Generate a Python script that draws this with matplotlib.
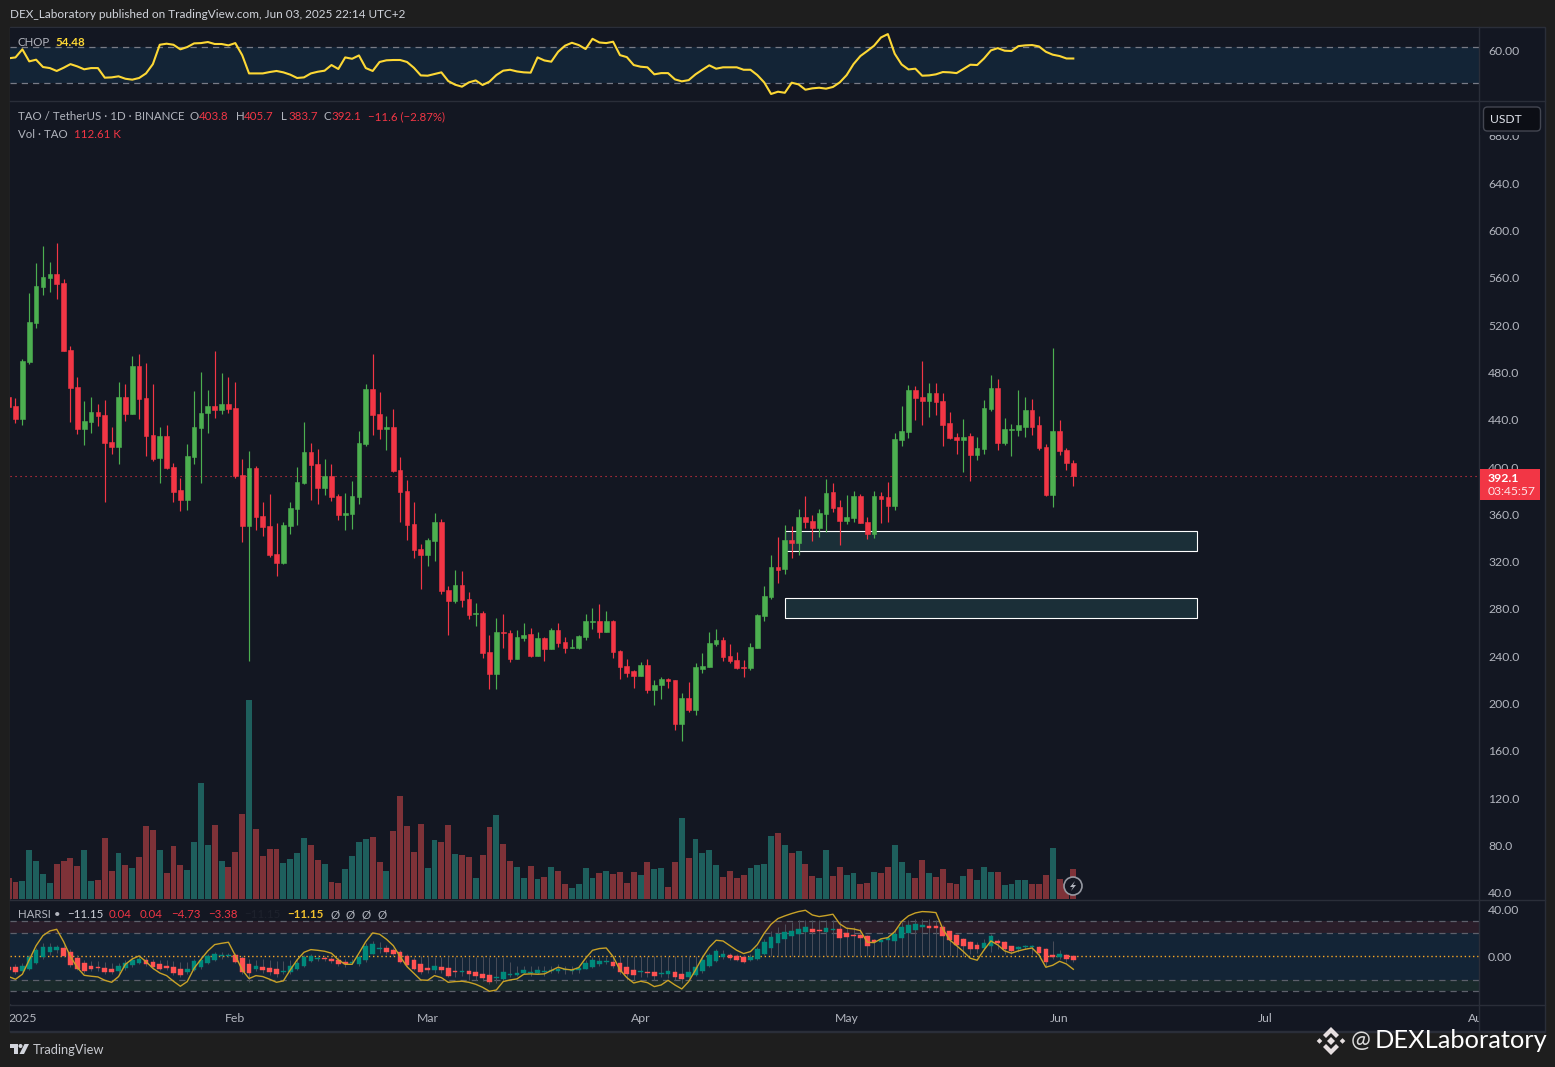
import matplotlib
matplotlib.use('Agg')
import matplotlib.pyplot as plt
import numpy as np
from matplotlib.patches import Rectangle, Polygon, Circle, FancyBboxPatch
from matplotlib.lines import Line2D
from matplotlib.transforms import Affine2D

plt.rcParams['font.family'] = ['Lato', 'DejaVu Sans']

W, H = 1555, 1067

# TAO/USDT daily candles, first one is 30 Dec 2024
opens = [459.2,451.3,440.6,488.8,522.0,552.4,559.7,563.1,555.5,498.6,467.6,432.4,438.3,446.5,444.0,421.1,
         417.2,459.2,445.1,485.4,458.3,427.1,407.9,426.2,400.0,380.6,372.4,408.7,433.3,445.9,451.6,448.5,
         453.3,449.9,393.3,350.5,399.2,358.3,350.2,326.5,318.9,350.5,364.8,386.8,412.7,402.6,382.6,392.4,
         375.5,359.8,360.6,375.0,419.7,465.9,444.8,432.4,433.8,397.5,379.8,351.9,330.7,325.7,337.5,353.6,
         296.1,286.8,300.3,288.5,275.8,276.7,243.7,225.1,260.6,259.8,237.8,255.5,258.9,240.3,255.5,246.2,
         262.3,252.1,247.1,247.1,256.4,269.0,269.9,260.6,269.9,244.5,231.9,227.6,223.4,232.7,211.6,215.8,
         220.9,220.0,182.9,204.8,194.7,229.3,231.0,250.5,253.8,240.3,236.9,231.0,230.2,247.1,274.1,290.2,
         315.5,313.8,338.3,335.8,357.8,354.4,348.5,360.3,378.9,366.2,354.4,356.9,375.5,353.5,343.4,375.5,
         374.7,367.1,422.8,429.6,465.1,459.2,455.8,462.6,455.8,437.2,425.4,422.8,426.2,410.2,415.2,449.0,
         466.8,420.3,431.3,431.3,433.8,448.2,435.5,416.9,376.4,430.5,414.4,403.8]
highs = [459.2,458.3,491.0,546.8,572.4,586.5,573.3,589.3,558.9,502.0,475.8,455.8,458.9,453.3,456.4,433.8,
         471.6,470.2,493.8,495.2,487.6,470.2,433.8,435.5,403.4,390.7,419.5,464.0,480.0,465.1,498.0,479.2,
         476.1,471.6,406.8,413.3,400.6,370.2,377.2,352.7,353.3,370.2,400.0,438.1,420.3,415.2,406.8,402.6,
         377.2,378.1,388.2,430.5,470.2,495.5,463.4,443.1,449.0,408.5,389.1,370.5,335.0,340.0,361.2,356.1,
         299.5,313.0,312.2,294.4,285.1,278.3,258.1,272.4,275.8,262.3,262.3,268.2,264.0,260.6,256.4,264.0,
         268.2,256.4,254.7,258.1,275.8,280.9,284.3,278.3,270.7,245.4,237.8,228.5,235.2,237.8,220.0,222.6,
         221.7,220.0,209.0,218.3,234.4,242.9,260.6,263.1,256.4,250.5,243.7,236.9,251.3,275.8,299.5,325.7,
         340.9,351.0,350.2,364.5,375.5,359.5,364.5,389.9,386.5,372.1,376.4,379.7,377.2,357.8,379.7,378.9,
         387.3,428.8,451.6,469.3,468.5,489.6,471.0,471.0,462.6,446.5,428.8,440.6,428.8,425.4,456.6,477.8,
         474.4,441.4,436.4,465.1,459.2,457.5,443.1,419.5,500.6,439.7,416.1,405.7]
lows = [451.0,437.5,435.8,487.3,517.8,545.7,547.9,542.3,498.0,438.3,428.2,418.9,429.0,434.9,370.7,411.3,
        402.8,439.2,445.0,440.9,409.6,405.4,386.8,398.6,370.7,363.1,364.0,402.8,386.8,429.0,441.7,445.1,
        445.9,391.0,336.9,236.4,347.1,342.0,324.3,308.2,318.3,343.7,351.3,386.0,372.4,369.1,376.7,371.6,
        355.5,347.1,347.9,369.1,418.0,427.3,424.0,414.7,396.1,353.8,338.3,323.1,296.9,316.4,320.6,292.7,
        258.1,285.1,281.7,271.6,265.7,238.6,212.4,212.4,247.1,235.2,237.8,253.0,239.5,240.3,236.1,246.2,
        247.9,242.9,247.1,246.2,253.8,263.1,255.5,260.6,238.6,220.9,222.6,213.3,223.4,209.0,198.9,204.0,
        213.3,177.8,168.5,193.0,190.5,226.0,231.0,248.8,236.1,234.4,229.3,222.6,228.5,247.1,269.9,288.5,
        302.0,309.6,323.1,325.7,348.5,337.5,340.9,345.1,362.0,334.1,351.9,353.5,352.7,339.2,340.0,352.7,
        353.5,363.7,417.8,424.5,439.7,435.5,442.3,444.0,417.8,423.7,411.0,395.8,388.2,405.9,411.0,447.4,
        414.4,418.6,409.3,426.2,425.4,427.1,414.4,375.5,366.2,410.2,397.5,383.7]
closes = [451.0,440.9,489.6,522.6,553.0,560.6,563.1,555.0,498.3,467.1,432.4,438.9,446.5,443.4,420.6,417.2,
          459.2,445.1,485.4,457.8,426.5,407.1,426.2,399.5,379.2,372.4,409.3,433.8,445.7,451.6,448.5,453.3,
          449.3,392.7,350.5,399.2,358.1,349.6,325.9,319.2,351.0,365.4,387.4,412.7,402.0,382.6,392.4,375.0,
          359.8,361.2,375.5,420.3,465.9,444.2,432.4,433.8,396.9,379.2,351.3,330.2,326.0,338.3,353.6,295.5,
          287.1,300.3,287.9,275.2,276.7,243.1,225.1,260.6,259.8,237.8,256.4,258.1,240.3,255.5,246.2,262.3,
          251.3,247.1,247.9,257.2,269.9,269.9,260.6,269.9,243.7,231.0,226.0,223.4,232.7,211.6,215.8,220.9,
          219.2,182.9,204.8,194.7,231.0,231.9,251.3,253.8,239.5,236.1,230.2,230.2,247.9,275.0,291.0,315.5,
          313.0,338.3,335.8,357.8,353.5,348.5,361.2,378.1,365.4,354.4,357.8,375.5,352.7,343.4,375.5,373.0,
          367.1,423.7,430.5,465.1,458.3,455.8,462.6,455.0,435.5,424.5,422.8,425.4,410.2,416.1,449.9,466.8,
          420.3,432.1,432.1,435.5,448.2,433.8,416.1,376.4,430.5,413.5,403.4,392.1]

# volume in thousands of TAO
volumes = [80,64,68,184,143,94,60,131,143,154,124,184,68,71,229,105,173,128,116,158,274,259,184,98,199,128,
           109,214,435,203,278,143,120,176,319,747,263,161,188,188,135,150,173,229,203,146,131,64,60,113,161,
           214,225,233,139,105,255,387,274,176,281,116,221,214,278,169,165,158,79,165,270,315,206,143,120,79,
           124,75,83,120,105,56,41,56,116,79,98,105,94,101,60,101,90,139,113,116,45,139,304,154,225,173,184,
           128,83,105,79,90,116,128,131,236,248,203,173,180,131,86,79,184,86,120,90,98,56,60,101,98,120,203,
           139,98,79,146,98,83,113,60,56,86,113,71,120,101,101,53,56,71,71,56,56,90,191,75,56,112.61]

chop = [54.6,55.2,60.5,52.6,53.7,48.9,48.2,46.3,48.4,50.8,49.3,47.4,48.2,48.2,41.9,42.1,42.8,41.2,40.6,41.7,
        44.7,50.8,63.5,64.2,63.5,60.5,62.0,64.4,64.6,65.3,64.0,64.0,63.1,64.6,56.7,44.7,44.7,44.7,45.6,46.3,
        45.4,43.9,41.7,42.1,44.7,45.8,46.5,50.2,47.6,55.2,54.3,56.5,48.2,46.3,52.2,53.3,53.5,53.5,52.2,48.4,
        43.4,43.2,44.3,45.4,39.7,37.3,36.0,38.8,40.1,37.1,39.3,43.6,46.5,47.1,46.0,45.4,45.2,55.2,53.2,52.4,
        58.9,62.9,64.8,63.3,60.7,67.4,65.0,64.6,65.5,56.7,55.4,50.2,49.1,48.7,44.1,44.9,44.9,40.8,39.5,40.3,
        44.1,47.1,50.0,47.8,48.7,48.7,48.7,47.1,47.1,43.6,38.8,31.2,32.7,32.0,38.6,37.5,34.0,34.9,35.3,34.7,
        35.8,38.8,43.6,50.8,56.1,59.4,62.9,68.3,70.5,57.6,50.6,47.3,47.8,43.2,43.4,44.1,45.6,45.4,44.9,47.6,
        50.4,50.2,54.5,59.8,61.3,59.6,59.4,62.6,63.1,63.3,62.4,58.9,57.0,56.1,54.5,54.48]

harsi_line = [-17.4,-19.7,-15.4,-3.1,9.1,17.7,21.7,23.1,12.6,-0.3,-9.7,-16.3,-17.1,-17.7,-20.6,-22.3,-17.4,-6.9,
              -2.3,0.3,-4.6,-10.3,-14.3,-16.6,-21.4,-25.7,-21.7,-10.3,-2.6,4.6,10.0,11.1,12.0,0.6,-11.7,-19.1,
              -16.6,-17.4,-19.7,-22.3,-21.1,-11.7,-3.1,3.4,5.7,5.1,4.3,2.6,-3.1,-6.9,-6.9,2.6,12.6,20.0,18.9,14.6,
              9.1,-0.3,-8.9,-14.6,-20.3,-20.6,-16.6,-18.3,-22.3,-21.7,-21.4,-22.3,-24.0,-26.6,-30.0,-28.9,-21.7,
              -20.3,-19.4,-15.4,-15.1,-15.4,-15.1,-12.3,-9.4,-11.1,-11.7,-9.7,-1.7,5.1,6.6,7.1,-0.3,-11.7,-18.3,
              -22.9,-21.4,-22.6,-26.0,-24.6,-20.6,-24.6,-28.0,-21.7,-11.7,-1.1,7.7,13.7,13.1,9.1,5.1,2.3,4.0,10.0,
              19.7,27.4,32.3,34.6,36.6,38.3,39.4,35.4,34.0,34.9,36.0,27.7,24.0,23.4,22.0,12.0,11.7,14.9,16.0,21.1,
              29.7,34.6,37.1,38.3,38.0,37.4,23.4,14.0,9.1,4.0,-1.7,-3.4,5.4,13.1,9.7,4.6,2.6,4.6,6.0,7.1,1.1,-9.4,
              -7.7,-4.3,-6.6,-11.15]
harsi_open = [-8.9,-9.4,-12.3,-10.9,-5.4,-0.3,3.7,5.4,7.4,4.0,-1.4,-5.7,-8.3,-9.4,-10.0,-10.9,-12.6,-10.0,-7.7,-5.7,
              -3.1,-4.9,-6.6,-8.3,-9.1,-10.9,-13.4,-11.7,-9.1,-5.7,-3.1,0.3,0.6,1.1,-1.4,-6.6,-11.1,-9.1,-10.0,
              -10.9,-13.1,-13.1,-10.9,-8.3,-4.0,-2.0,-1.4,-2.3,-3.1,-4.9,-5.4,-6.6,-3.1,2.0,6.3,7.1,5.4,3.7,0.3,
              -3.1,-6.6,-10.0,-11.7,-9.1,-10.0,-12.6,-13.1,-12.6,-13.4,-15.1,-16.0,-18.6,-19.4,-16.0,-16.0,-14.3,
              -14.6,-14.3,-13.7,-12.9,-12.3,-11.7,-12.3,-11.7,-10.9,-9.1,-6.6,-4.9,-4.9,-5.7,-9.1,-11.7,-13.4,-13.4,
              -13.4,-14.9,-15.1,-13.4,-15.1,-17.7,-16.0,-12.6,-8.3,-4.0,-0.3,0.9,0.3,-0.3,-3.1,-2.3,2.0,7.1,11.4,
              14.9,17.4,19.1,20.9,23.4,22.6,20.9,22.9,23.4,20.0,18.3,18.3,17.4,14.0,12.3,13.7,13.1,15.7,20.0,22.6,
              25.1,26.0,26.0,25.1,21.7,18.3,14.9,12.3,9.7,7.1,8.9,13.1,12.3,8.9,6.3,8.0,8.0,8.0,6.3,1.1,-0.3,1.1,0.04]
harsi_close = [-11.7,-13.1,-8.3,-0.3,5.4,8.3,8.0,8.0,0.3,-7.4,-10.6,-12.6,-10.9,-10.0,-13.1,-13.4,-8.3,-5.7,-3.1,-2.3,
               -6.6,-9.1,-10.9,-10.0,-14.3,-16.0,-10.9,-4.0,-3.1,0.3,2.0,1.1,1.1,-4.9,-13.4,-14.3,-8.3,-11.7,-13.1,
               -15.1,-12.6,-8.3,-5.7,-0.6,0.3,-1.1,-2.3,-4.0,-6.6,-6.9,-4.9,-0.6,9.1,10.9,7.4,4.0,2.0,-4.9,-7.4,
               -10.9,-13.4,-11.7,-8.3,-11.7,-16.9,-13.4,-12.6,-15.1,-16.9,-18.6,-22.0,-17.7,-13.4,-14.9,-14.0,-11.7,
               -13.4,-11.7,-12.6,-11.7,-10.6,-11.1,-11.7,-10.0,-5.7,-3.1,-4.0,-4.0,-8.3,-13.4,-15.1,-16.0,-12.9,-14.0,
               -16.9,-14.3,-12.6,-17.7,-19.4,-13.4,-9.1,-3.1,1.1,4.6,2.0,-1.1,-3.1,-4.9,-0.3,6.3,12.3,16.6,19.1,20.9,
               21.7,23.4,25.1,20.9,21.7,24.3,23.4,15.7,16.6,17.4,15.7,9.1,12.3,14.0,15.7,19.1,25.1,26.9,27.7,26.9,
               24.3,24.3,17.4,14.0,9.7,8.6,6.3,6.3,11.4,17.4,11.1,6.3,4.6,7.7,9.1,8.9,2.9,-4.9,-0.3,2.0,-2.3,-3.38]
harsi_high = [-8,-7,-6,1,7,11,11,10,10,6,1,-3,-4,-4,-5,-6,-6,-3,-1,0,-1,-2,-3,-3,-4,-5,-5,-2,0,2,4,4,3,3,0,-2,-3,-2,-3,-4,
              -4,-3,-2,1,2,1,0,-1,-1,-2,-2,1,11,13,12,10,7,5,2,-1,0,0,-1,-1,0,-1,-1,-1,-1,0,-1,-1,-1,-5,-8,-8,-8,-8,
              -8,-8,-7,-8,-8,-8,-3,-1,-1,-1,-1,0,0,0,0,0,0,0,0,0,0,0,0,0,3,6,5,3,2,1,2,8,15,22,25,28,29,31,31,31,31,
              31,31,30,25,25,24,18,15,15,17,23,29,31,32,32,32,31,27,22,19,16,13,12,15,19,15,13,9,9,10,10,9,7,13,5,2,0.04]
harsi_low = [-13,-15,-13,-12,-7,-2,1,3,-1,-9,-12,-14,-13,-13,-15,-15,-14,-12,-9,-7,-8,-11,-12,-12,-16,-18,-15,-13,-11,-7,-4,-2,
             -1,-6,-15,-22,-13,-14,-16,-18,-15,-15,-12,-9,-5,-4,-4,-6,-8,-9,-7,-8,-5,2,3,2,0,-6,-9,-12,-15,-14,-14,-14,-18,
             -18,-17,-20,-20,-21,-24,-23,-21,-18,-17,-15,-17,-15,-17,-14,-14,-15,-15,-14,-11,-10,-8,-7,-10,-15,-20,-20,-18,
             -18,-20,-18,-19,-20,-23,-19,-17,-14,-9,-5,-2,-3,-4,-6,-4,-3,1,0,0,0,0,0,0,0,0,0,0,0,0,0,0,0,0,0,0,0,0,0,0,0,0,0,
             1,0,0,0,2,3,5,4,6,2,2,4,6,2,0,-9,-2,-2,-5,-4.73]

price_ticks = [40, 80, 120, 160, 200, 240, 280, 320, 360, 400, 440, 480, 520, 560, 600, 640, 680]
month_labels = ['2025', 'Feb', 'Mar', 'Apr', 'May', 'Jun', 'Jul', 'Aug']
month_days = [2, 33, 61, 92, 122, 153, 183, 214]  # candle index of the 1st of each month
zones = [(346.3, 329.0, 113, 173), (289.3, 272.4, 113, 173)]
last_price = 392.1

BG = '#131722'
OUTER = '#1e1e1e'
LINE = '#2a2e39'
TXT = '#b2b5be'
UP = '#4caf50'
DOWN = '#f23645'
VOL_UP = '#1e5f5d'
VOL_DOWN = '#7e3238'
H_UP = '#00897b'
H_DOWN = '#ff5252'

# pixel transform, origin at top left like the screenshot
px = Affine2D().scale(1, -1).translate(0, H)

fig = plt.figure(figsize=(W / 100, H / 100), dpi=100, facecolor=OUTER)


def pane(y0, y1, zorder=1):
    a = fig.add_axes([10 / W, 1 - y1 / H, (1479 - 10) / W, (y1 - y0) / H], zorder=zorder)
    a.set_facecolor(BG)
    a.set_xlim(0.2, 214.06)
    a.set_xticks([])
    for s in a.spines.values():
        s.set_visible(False)
    a.tick_params(axis='y', left=False, right=True, labelleft=False, labelright=True,
                  length=0, pad=6.5, labelcolor=TXT, labelsize=8.8)
    return a


def label(x, y, s, color=TXT, size=8.3, **kw):
    kw.setdefault('va', 'center')
    kw.setdefault('ha', 'left')
    fig.text(x, y, s, color=color, fontsize=size, transform=px, zorder=8, **kw)


idx = np.arange(len(closes))
op, hi, lo, cl = map(np.array, (opens, highs, lows, closes))
is_up = cl >= op

# background frame
fig.add_artist(Rectangle((10, 27), 1535, 1005, transform=px, facecolor=BG, edgecolor=LINE, lw=1, zorder=-1))

# CHOP pane
ax_chop = pane(28, 101)
ax_chop.set_ylim(26.6, 74.5)
ax_chop.axhspan(38.2, 61.8, color='#132436', lw=0)
for lev in (38.2, 61.8):
    ax_chop.axhline(lev, color='#787b86', lw=0.9, dashes=(5, 4))
ax_chop.plot(idx, chop, color='#fdd835', lw=1.5)
ax_chop.set_yticks([60])
ax_chop.set_yticklabels(['60.00'])

# volume sits under the candles
ax_vol = pane(102, 899, zorder=1)
ax_vol.set_ylim(0, 2992)
ax_vol.set_yticks([])
ax_vol.bar(idx, volumes, width=0.86, color=[VOL_UP if u else VOL_DOWN for u in is_up], lw=0)

# main pane
ax = pane(102, 899, zorder=2)
ax.patch.set_visible(False)
ax.set_ylim(34.9, 708.5)
ax.set_yticks(price_ticks)
ax.set_yticklabels(['%.1f' % t for t in price_ticks])
ax.axhline(last_price, color=DOWN, lw=0.8, dashes=(1, 3.5))
for top, bottom, i0, i1 in zones:
    ax.add_patch(Rectangle((i0, bottom), i1 - i0, top - bottom, facecolor='#1b2f38', edgecolor='white', lw=0.8, zorder=1.5))
colors = [UP if u else DOWN for u in is_up]
ax.vlines(idx, lo, hi, colors=colors, lw=0.85, zorder=2)
ax.bar(idx, np.abs(cl - op), bottom=np.minimum(op, cl), width=0.68, color=colors,
       edgecolor=colors, lw=0.4, zorder=3)

# HARSI pane
ax_h = pane(900, 1004)
ax_h.set_ylim(-40.9, 48.2)
ax_h.axhspan(20, 30, color='#2a1e2a', lw=0)
ax_h.axhspan(-20, 20, color='#132436', lw=0)
ax_h.axhspan(-30, -20, color='#1a2a2b', lw=0)
for lev in (30, 20, -20, -30):
    ax_h.axhline(lev, color='#5d606b', lw=0.9, dashes=(5, 4))
ax_h.axhline(0, color='#f9a825', lw=1, dashes=(1, 2))
h_open = np.array(harsi_open)
h_close = np.array(harsi_close)
h_up = h_close >= h_open
ax_h.vlines(idx, harsi_low, harsi_high, colors='#4a4e5a', lw=0.7, zorder=2)
ax_h.bar(idx, np.abs(h_close - h_open), bottom=np.minimum(h_open, h_close), width=0.68,
         color=[H_UP if u else H_DOWN for u in h_up], edgecolor=[H_UP if u else H_DOWN for u in h_up], lw=0.3, zorder=3)
ax_h.plot(idx, harsi_line, color='#c9a227', lw=1.0, zorder=4)
ax_h.set_yticks([0, 40])
ax_h.set_yticklabels(['0.00', '40.00'])

# time axis
ax_t = pane(1005, 1031)
ax_t.set_yticks([])
ax_t.set_ylim(0, 1)
for d, m in zip(month_days, month_labels):
    ax_t.text(d, 0.5, m, color=TXT, fontsize=8.8, ha='center', va='center', clip_on=True)

# separators
for y in (101, 899.5, 1004.5, 1031):
    fig.add_artist(Line2D([10, 1545], [y, y], transform=px, color=LINE, lw=1, zorder=6))
fig.add_artist(Line2D([1479, 1479], [27, 1032], transform=px, color=LINE, lw=1, zorder=6))

# price tag and currency button, the button hides the top of the 680 label
fig.add_artist(Rectangle((1480, 469), 60, 31, transform=px, facecolor=DOWN, edgecolor='none', zorder=7))
label(1488, 478, '392.1', 'white', 8.8, fontweight='bold')
label(1488, 491.5, '03:45:57', '#fde3e6', 8.7)
fig.add_artist(Rectangle((1480, 128), 64, 7, transform=px, facecolor=BG, edgecolor='none', zorder=6.5))
fig.add_artist(FancyBboxPatch((1485, 108.5), 54, 21, boxstyle='round,pad=1.5,rounding_size=4', transform=px,
                              facecolor='#0c0e15', edgecolor='#434651', lw=1, zorder=7))
label(1506, 119.5, 'USDT', '#e0e3eb', 8.7, ha='center')

# lightning button
fig.add_artist(Circle((1073, 886), 9, transform=px, facecolor=BG, edgecolor='#9598a1', lw=1.2, zorder=7))
fig.add_artist(Polygon([(1075, 881), (1070, 887), (1073, 887), (1071, 891), (1076, 885), (1073, 885)],
                       transform=px, facecolor='#b2b5be', edgecolor='none', zorder=8))

# header and legends
label(10, 14.5, 'DEX_Laboratory published on TradingView.com, Jun 03, 2025 22:14 UTC+2', '#d1d4dc', 8.5)
label(18, 42, 'CHOP', TXT)
label(55, 42, '54.48', '#fdd835', 8.3, fontweight='bold')
label(18, 117, 'TAO / TetherUS · 1D · BINANCE', TXT)
for x, s in ((190, 'O'), (236, 'H'), (281, 'L'), (323, 'C')):
    label(x, 117, s, TXT)
for x, s in ((199, '403.8'), (244, '405.7'), (288, '383.7'), (331, '392.1'), (368, '−11.6 (−2.87%)')):
    label(x, 117, s, DOWN)
label(18, 134, 'Vol · TAO', TXT)
label(74, 134, '112.61 K', DOWN)
label(18, 915, 'HARSI •', TXT)
label(67, 915, '−11.15', '#d1d4dc')
for x, s in ((109, '0.04'), (140, '0.04'), (171, '−4.73'), (208, '−3.38')):
    label(x, 915, s, DOWN)
label(244, 915, '−11.15', '#1e222d')
label(287, 915, '−11.15', '#f2c12e', 8.3, fontweight='bold')
for x in (330.5, 346, 361.5, 377):
    label(x, 915, 'Ø', TXT)

# TradingView mark
fig.add_artist(Polygon([(10, 1044), (18, 1044), (18, 1054), (14, 1054), (14, 1048), (10, 1048)], transform=px,
                       facecolor='#d1d4dc', edgecolor='none', zorder=8))
fig.add_artist(Circle((20.5, 1046), 2, transform=px, facecolor='#d1d4dc', edgecolor='none', zorder=8))
fig.add_artist(Polygon([(24.5, 1044), (29, 1044), (24, 1054), (19.5, 1054)], transform=px,
                       facecolor='#d1d4dc', edgecolor='none', zorder=8))
label(33, 1049.5, 'TradingView', '#c8cad0', 9.3)

# watermark
mark = '#e6dfe0'
for cx, r in ((1319.5, 2.8), (1331, 4), (1342.5, 2.8)):
    fig.add_artist(Polygon([(cx - r, 1041), (cx, 1041 - r), (cx + r, 1041), (cx, 1041 + r)], transform=px,
                           facecolor=mark, edgecolor='none', zorder=8))
fig.add_artist(Polygon([(1331, 1027), (1339, 1035), (1336, 1038), (1331, 1033), (1326, 1038), (1323, 1035)],
                       transform=px, facecolor=mark, edgecolor='none', zorder=8))
fig.add_artist(Polygon([(1331, 1055), (1339, 1047), (1336, 1044), (1331, 1049), (1326, 1044), (1323, 1047)],
                       transform=px, facecolor=mark, edgecolor='none', zorder=8))
label(1351, 1041, '@', '#d8d8d8', 17)
label(1375, 1041, 'DEXLaboratory', 'white', 18.25)

fig.savefig('out.png', dpi=100, facecolor=OUTER)
